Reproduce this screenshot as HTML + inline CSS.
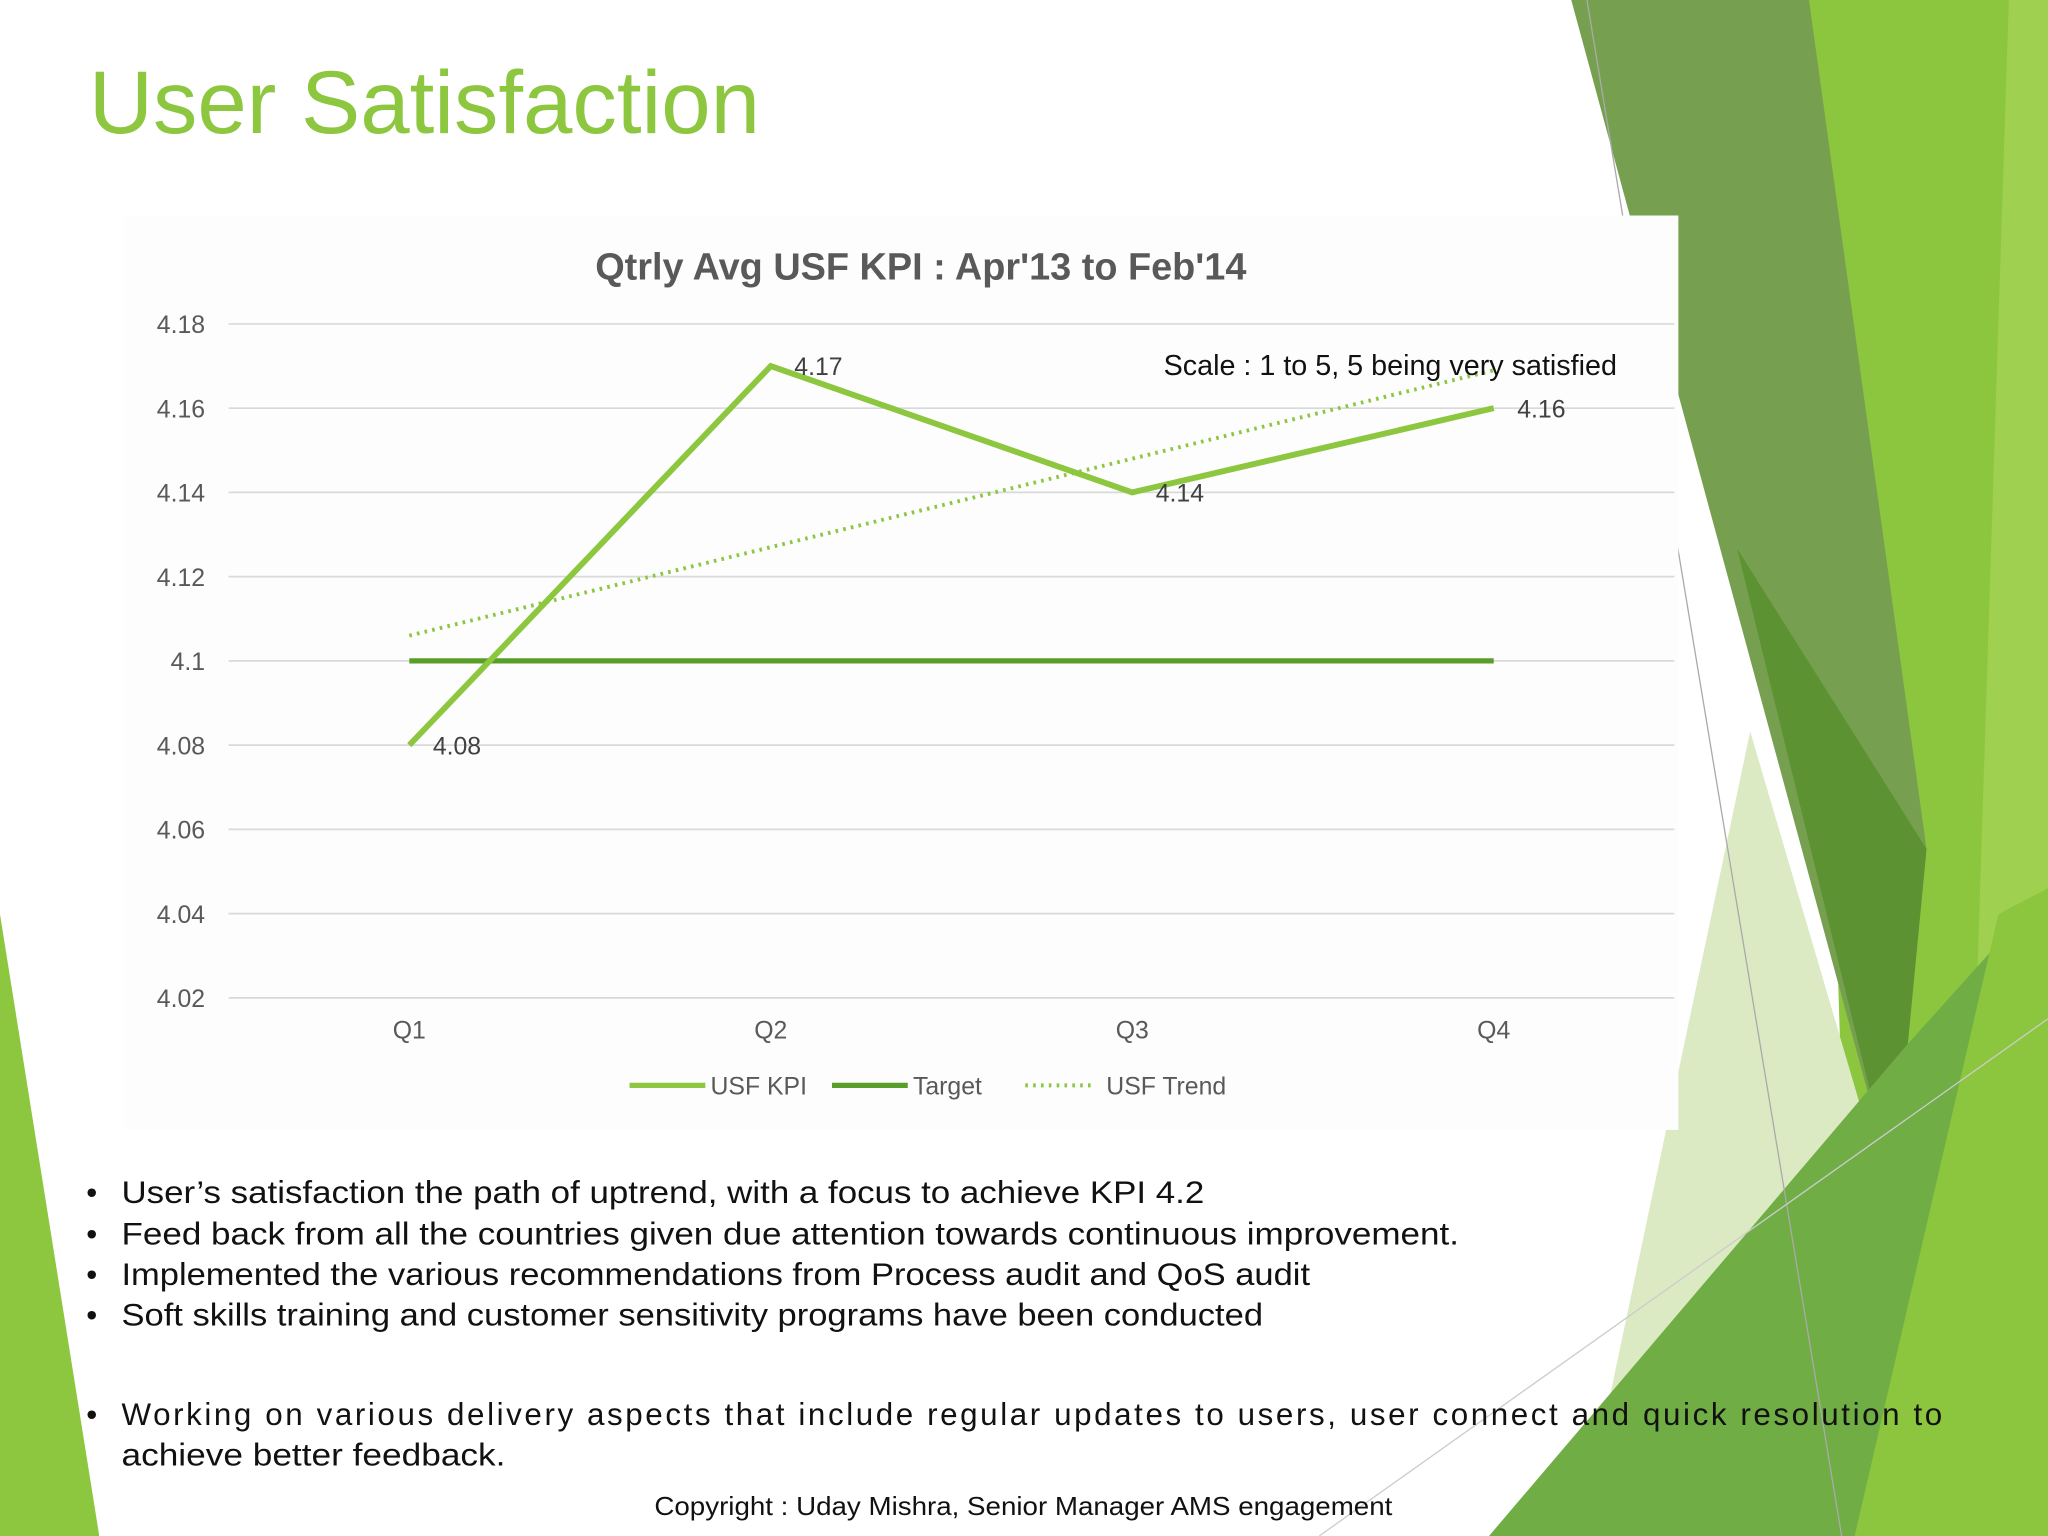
<!DOCTYPE html>
<html><head><meta charset="utf-8"><style>
html,body{margin:0;padding:0;background:#fff;}
svg{display:block;font-family:"Liberation Sans","DejaVu Sans",sans-serif;}
</style></head><body>
<svg id="root" width="2048" height="1536" viewBox="0 0 1568 1176">
<rect width="1568" height="1176" fill="#fff"/>
<g>
<polygon points="0,700 76,1176 0,1176" fill="#8dc63f"/>
<polygon points="1385,0 1568,0 1568,1176 1420,1176" fill="#8cc63e"/>
<polygon points="1538,0 1568,0 1568,1176 1500,1176" fill="#9fd04f"/>
<polygon points="1203,0 1385,0 1475,650 1450,910" fill="#76a050"/>
<polygon points="1330,420 1475,650 1450,910" fill="#5c9232"/>
<polygon points="1210,1176 1340,560 1440,900 1420,1176" fill="#dbeac3"/>
<polygon points="1140,1176 1460,800 1568,680 1568,1176" fill="#70ad45"/>
<polygon points="1420,1176 1530,700 1568,680 1568,1176" fill="#8cc63e"/>
<line x1="1215" y1="0" x2="1410" y2="1176" stroke="#aaa" stroke-width="1"/>
<line x1="1010" y1="1176" x2="1568" y2="780" stroke="#ccc" stroke-width="1"/>
</g>
<text x="68" y="102" font-size="68" fill="#8dc63f">User Satisfaction</text>
<rect x="95" y="165" width="1190" height="700" fill="#fdfdfd"/>
<text x="705" y="214" font-size="29" font-weight="bold" fill="#595959" text-anchor="middle">Qtrly Avg USF KPI : Apr'13 to Feb'14</text>
<g id="grid"></g>
<g id="series"></g>
<text x="1238" y="287" font-size="22" fill="#111" text-anchor="end">Scale : 1 to 5, 5 being very satisfied</text>
<g font-size="19" fill="#595959">
<line x1="482" y1="831" x2="540" y2="831" stroke="#8dc63f" stroke-width="4"/>
<text x="544" y="838">USF KPI</text>
<line x1="637" y1="831" x2="695" y2="831" stroke="#5a9e2a" stroke-width="4"/>
<text x="699" y="838">Target</text>
<line x1="785" y1="831" x2="838" y2="831" stroke="#8dc63f" stroke-width="3" stroke-dasharray="2,4"/>
<text x="847" y="838">USF Trend</text>
</g>
<g font-size="24" fill="#111">
<text x="66" y="921">•</text><text x="93" y="921" textLength="829" lengthAdjust="spacingAndGlyphs">User’s satisfaction the path of uptrend, with a focus to achieve KPI 4.2</text>
<text x="66" y="953">•</text><text x="93" y="953" textLength="1024" lengthAdjust="spacingAndGlyphs">Feed back from all the countries given due attention towards continuous improvement.</text>
<text x="66" y="984">•</text><text x="93" y="984" textLength="910" lengthAdjust="spacingAndGlyphs">Implemented the various  recommendations from Process audit and QoS audit</text>
<text x="66" y="1015">•</text><text x="93" y="1015" textLength="874" lengthAdjust="spacingAndGlyphs">Soft skills training and customer sensitivity programs have been conducted</text>
<text x="66" y="1091">•</text><text x="93" y="1091" textLength="1394" lengthAdjust="spacing">Working on various delivery aspects that include regular updates to users, user connect and quick resolution to</text>
<text x="93" y="1122" textLength="294" lengthAdjust="spacingAndGlyphs">achieve better feedback.</text>
</g>
<text x="501" y="1160" font-size="20" fill="#111" textLength="565" lengthAdjust="spacingAndGlyphs">Copyright : Uday Mishra, Senior Manager AMS engagement</text>
</svg>
<script>
const categories=["Q1","Q2","Q3","Q4"];
const usfKpi=[4.08,4.17,4.14,4.16];
const target=[4.1,4.1,4.1,4.1];
const yTicks=[4.02,4.04,4.06,4.08,4.1,4.12,4.14,4.16,4.18];
const yTickLabels=["4.02","4.04","4.06","4.08","4.1","4.12","4.14","4.16","4.18"];
const NS="http://www.w3.org/2000/svg";
const yMin=4.02,yMax=4.18,yTop=248,yBot=764,xL=175,xR=1282;
function yS(v){return yBot-(v-yMin)/(yMax-yMin)*(yBot-yTop);}
function xS(i){const w=(xR-xL)/categories.length;return xL+w*(i+0.5);}
function mk(tag,attrs,parent){const e=document.createElementNS(NS,tag);for(const k in attrs)e.setAttribute(k,attrs[k]);parent.appendChild(e);return e;}
const grid=document.getElementById('grid'),ser=document.getElementById('series');
yTicks.forEach((t,i)=>{
 const l=mk('line',{x1:xL,x2:xR,y1:yS(t),y2:yS(t),stroke:'#d9d9d9','stroke-width':1.3},grid);
 
 
 const tx=mk('text',{x:157,y:yS(t)+7,'font-size':19,fill:'#595959','text-anchor':'end'},grid);
 tx.textContent=yTickLabels[i];
 
 
});
categories.forEach((c,i)=>{
 const tx=mk('text',{x:xS(i),y:795,'font-size':19,fill:'#595959','text-anchor':'middle'},grid);
 tx.textContent=c;
 
 
});
const tl=mk('polyline',{points:target.map((v,i)=>xS(i)+','+yS(v)).join(' '),fill:'none',stroke:'#5a9e2a','stroke-width':4},ser);


// linear trend from data
const n=usfKpi.length,mx=(n-1)/2,my=usfKpi.reduce((a,b)=>a+b,0)/n;
let sxy=0,sxx=0;usfKpi.forEach((v,i)=>{sxy+=(i-mx)*(v-my);sxx+=(i-mx)*(i-mx);});
const slope=sxy/sxx;
const tr=mk('line',{x1:xS(0),y1:yS(my+slope*(0-mx)),x2:xS(n-1),y2:yS(my+slope*(n-1-mx)),stroke:'#8dc63f','stroke-width':3,'stroke-dasharray':'2,4'},ser);


const kl=mk('polyline',{points:usfKpi.map((v,i)=>xS(i)+','+yS(v)).join(' '),fill:'none',stroke:'#8dc63f','stroke-width':4.5,'stroke-linejoin':'miter'},ser);


usfKpi.forEach((v,i)=>{
 const tx=mk('text',{x:xS(i)+18,y:yS(v)+7,'font-size':19,fill:'#404040'},ser);
 tx.textContent=v.toFixed(2);
 
 
});
</script>
</body></html>
